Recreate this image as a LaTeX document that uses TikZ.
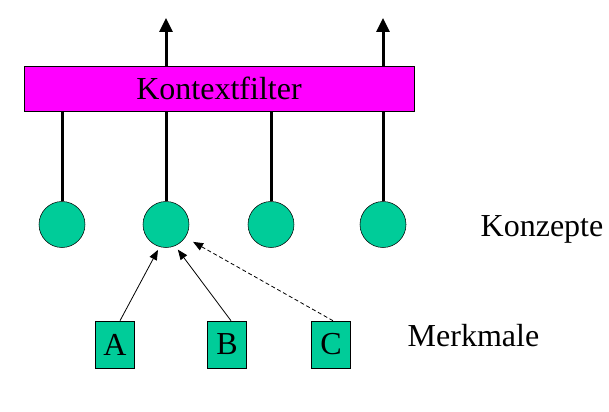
\documentclass[tikz,border=0pt]{standalone}
\usepackage{fontspec}
\setmainfont{Liberation Serif}
\usetikzlibrary{arrows.meta}
\definecolor{konzeptgruen}{HTML}{00CC99}
\definecolor{filterrosa}{HTML}{FF00FF}

\begin{document}
\begin{tikzpicture}[x=0.75pt, y=0.75pt, every node/.style={font=\fontsize{24}{28}\selectfont},
	konzept/.style={circle, draw=black, fill=konzeptgruen, minimum size=34.5pt, inner sep=0pt},
	merkmal/.style={rectangle, draw=black, fill=konzeptgruen, minimum width=29.25pt, minimum height=35.25pt, inner sep=0pt},
	dick/.style={line width=2.25pt},
	duenn/.style={line width=0.6pt, -{Triangle[length=7.5pt, width=6pt]}}]
	\useasboundingbox (0,0) rectangle (609,411);
	\node[rectangle, draw=black, fill=filterrosa, minimum width=292.5pt, minimum height=33.75pt, inner sep=0pt] (F) at (219,322.5) {Kontextfilter};
	\foreach \x [count=\i] in {62,166,271,383} {
		\node[konzept] (K-\i) at (\x,186.5) {};
		\draw[dick] (K-\i.north) -- (K-\i |- F.south);
	}
	\coordinate (out-2) at (166,393);
	\coordinate (out-4) at (383,393);
	\draw[dick, -{Triangle[length=10.5pt, width=9.75pt]}] (out-2 |- F.north) -- (out-2);
	\draw[dick, -{Triangle[length=10.5pt, width=9.75pt]}] (out-4 |- F.north) -- (out-4);
	\node[merkmal] (A) at (115,66.5) {A};
	\node[merkmal] (B) at (227,66.5) {B};
	\node[merkmal] (C) at (331,66.5) {C};
	\draw[duenn, shorten >=2.6pt] ([xshift=3.75pt]A.north) -- (K-2.254);
	\draw[duenn, shorten >=3.5pt] ([xshift=3pt]B.north) -- (K-2.293);
	\draw[duenn, dash pattern=on 3pt off 2pt, shorten >=6.7pt] ([xshift=1.5pt]C.north) -- (K-2.326);
	\node[anchor=base west] (konzepte) at (476,175) {Konzepte};
	\node[anchor=base west] (merkmale) at (403,65) {Merkmale};
\end{tikzpicture}
\end{document}
